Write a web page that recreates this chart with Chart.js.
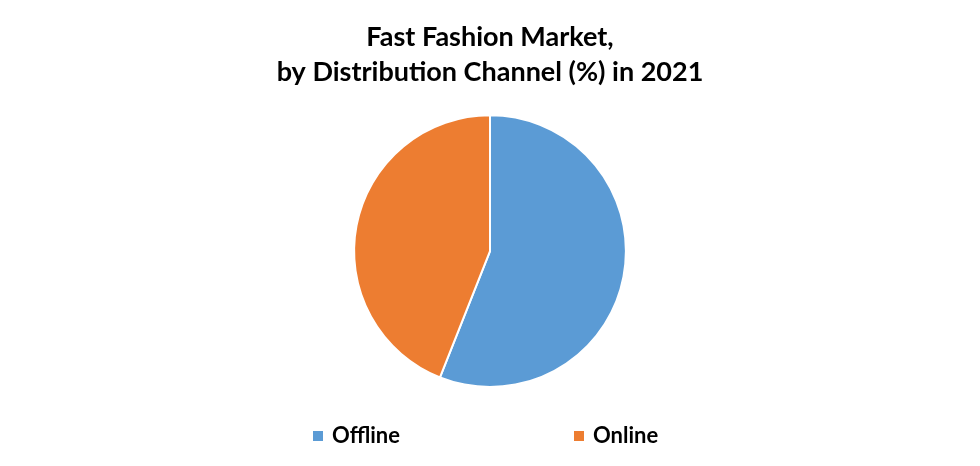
<!DOCTYPE html>
<html>
<head>
<meta charset="utf-8">
<script src="https://cdn.jsdelivr.net/npm/chart.js@4/dist/chart.umd.min.js"></script>
<style>
  html, body { margin: 0; padding: 0; background: #fff; }
  #wrap { width: 980px; height: 466px; }
</style>
</head>
<body>
<div id="wrap"><canvas id="pieChart"></canvas></div>
<script>
const channels = ["Offline", "Online"];
const shares = [56, 44];
const sliceColors = ["#5B9BD5", "#ED7D31"];
const titleLines = ["Fast Fashion Market,", "by Distribution Channel (%) in 2021"];

const FONT = "Lato, 'Open Sans', sans-serif";

// legend drawn by hand so the two items can sit far apart like the original
const wideLegend = {
  id: "wideLegend",
  afterDraw(chart) {
    const ctx = chart.ctx;
    const xs = [313, 574];
    const y = 436;
    ctx.save();
    ctx.font = "bold 22px " + FONT;
    ctx.textBaseline = "middle";
    chart.data.labels.forEach((label, i) => {
      ctx.fillStyle = chart.data.datasets[0].backgroundColor[i];
      ctx.fillRect(xs[i], y - 5, 10, 10);
      ctx.fillStyle = "#000";
      ctx.fillText(label, xs[i] + 19, y);
    });
    ctx.restore();
  }
};

new Chart(document.getElementById("pieChart"), {
  type: "pie",
  data: {
    labels: channels,
    datasets: [{
      data: shares,
      backgroundColor: sliceColors,
      borderColor: "#fff",
      borderWidth: 2
    }]
  },
  options: {
    responsive: true,
    maintainAspectRatio: false,
    animation: false,
    layout: { padding: { top: 0, bottom: 78 } },
    plugins: {
      legend: { display: false },
      tooltip: { enabled: false },
      title: {
        display: true,
        text: titleLines,
        color: "#000",
        font: { family: FONT, size: 27, weight: "bold", lineHeight: 1.3 },
        padding: { top: 20, bottom: 24 }
      }
    }
  },
  plugins: [wideLegend]
});
</script>
</body>
</html>
